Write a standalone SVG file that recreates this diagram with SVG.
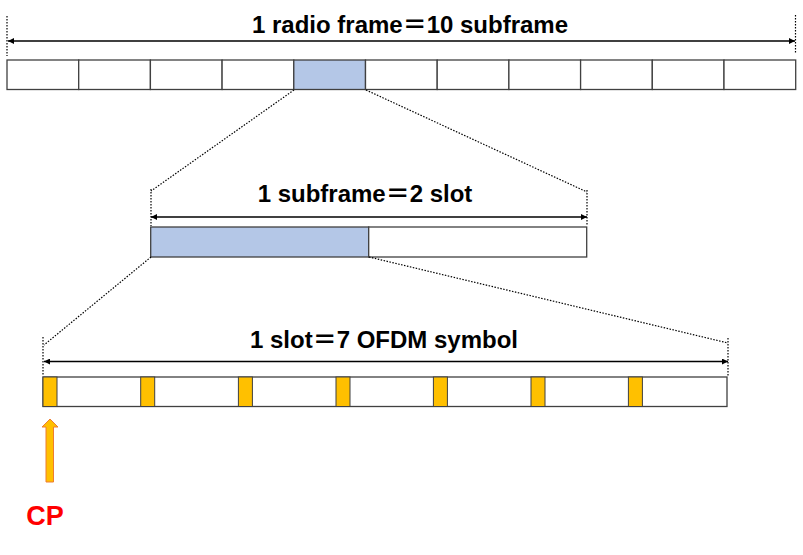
<svg xmlns="http://www.w3.org/2000/svg" width="803" height="555" viewBox="0 0 803 555">
<defs>
<marker id="ah" viewBox="0 0 10 10" refX="10" refY="5" markerWidth="6" markerHeight="6" markerUnits="userSpaceOnUse" orient="auto-start-reverse">
<path d="M0,0 L10,5 L0,10 z" fill="#000"/>
</marker>
<style>
.cell{fill:#fff;stroke:#404040;stroke-width:1.3}
.sel{fill:#B4C7E7;stroke:#404040;stroke-width:1.3}
.cp{fill:#FFC000;stroke:#404040;stroke-width:1}
.dot{stroke:#000;stroke-width:1.2;stroke-dasharray:1.5 1.5;fill:none}
.dim{stroke:#000;stroke-width:1.5;fill:none}
.lbl{font-family:"Liberation Sans","Noto Sans CJK SC",sans-serif;font-weight:bold;font-size:24px;fill:#000;text-anchor:middle}
</style>
</defs>
<rect width="803" height="555" fill="#fff"/>

<g id="frame">
<rect class="cell" x="7" y="60" width="71.7" height="29.5"/>
<rect class="cell" x="78.7" y="60" width="71.7" height="29.5"/>
<rect class="cell" x="150.4" y="60" width="71.7" height="29.5"/>
<rect class="cell" x="222.1" y="60" width="71.7" height="29.5"/>
<rect class="sel" x="293.8" y="60" width="71.7" height="29.5"/>
<rect class="cell" x="365.5" y="60" width="71.7" height="29.5"/>
<rect class="cell" x="437.2" y="60" width="71.7" height="29.5"/>
<rect class="cell" x="508.9" y="60" width="71.7" height="29.5"/>
<rect class="cell" x="580.6" y="60" width="71.7" height="29.5"/>
<rect class="cell" x="652.3" y="60" width="71.7" height="29.5"/>
<rect class="cell" x="724" y="60" width="71.7" height="29.5"/>
<text class="lbl" x="410" y="33">1 radio frame＝10 subframe</text>
</g>

<g id="subframe">
<rect class="sel" x="150.7" y="227" width="218" height="30"/>
<rect class="cell" x="368.7" y="227" width="218" height="30"/>
<text class="lbl" x="365" y="202">1 subframe＝2 slot</text>
</g>

<g id="slot">
<rect class="cell" x="43" y="377" width="684" height="29.5"/>
<rect class="cp" x="43" y="377" width="14" height="29.5"/>
<rect class="cp" x="140.7" y="377" width="14" height="29.5"/>
<rect class="cp" x="238.4" y="377" width="14" height="29.5"/>
<rect class="cp" x="336" y="377" width="14" height="29.5"/>
<rect class="cp" x="433.4" y="377" width="14" height="29.5"/>
<rect class="cp" x="531" y="377" width="14" height="29.5"/>
<rect class="cp" x="628.4" y="377" width="14" height="29.5"/>
<text class="lbl" x="384" y="348">1 slot＝7 OFDM symbol</text>
</g>

<g id="cp">
<path d="M46,482 L46,427 L42,427 L50,419 L58,427 L53.5,427 L53.5,482 Z" fill="#FFC000" stroke="#ED7D31" stroke-width="1"/>
<text x="45" y="525" style="font-family:'Liberation Sans',sans-serif;font-weight:bold;font-size:27px;fill:#FF0000;text-anchor:middle">CP</text>
</g>

<g id="connectors">
<line class="dot" x1="7" y1="16" x2="7" y2="56"/>
<line class="dot" x1="795.5" y1="15" x2="795.5" y2="54"/>
<line class="dim" x1="8" y1="41" x2="795" y2="41" marker-start="url(#ah)" marker-end="url(#ah)"/>

<line class="dot" x1="294" y1="90" x2="151" y2="191"/>
<line class="dot" x1="366" y1="90" x2="587" y2="192"/>
<line class="dot" x1="151" y1="189" x2="151" y2="226"/>
<line class="dot" x1="587" y1="190" x2="587" y2="226"/>
<line class="dim" x1="151" y1="217" x2="587" y2="217" marker-start="url(#ah)" marker-end="url(#ah)"/>

<line class="dot" x1="151" y1="257" x2="44" y2="345"/>
<line class="dot" x1="369" y1="257" x2="728" y2="343"/>
<line class="dot" x1="43" y1="337" x2="43" y2="376"/>
<line class="dot" x1="728" y1="338" x2="728" y2="376"/>
<line class="dim" x1="44" y1="361.5" x2="728" y2="361.5" marker-start="url(#ah)" marker-end="url(#ah)"/>
</g>
</svg>
